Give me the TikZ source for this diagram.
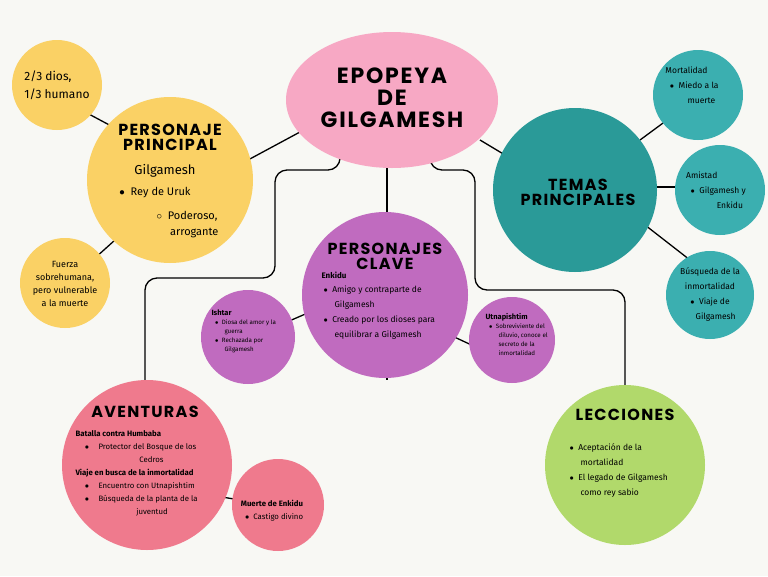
\documentclass[tikz,border=0pt]{standalone}
\usepackage{fontspec}
\setmainfont{Fira Sans}
\newfontfamily\titlefont[LetterSpace=8]{Poppins Bold}
\usetikzlibrary{calc}
\definecolor{bg}{HTML}{F8F8F4}
\definecolor{cyel}{HTML}{FAD165}
\definecolor{cpink}{HTML}{F7A8C4}
\definecolor{cteal}{HTML}{2A9A98}
\definecolor{cteal2}{HTML}{3BAFB0}
\definecolor{cpur}{HTML}{C06BBF}
\definecolor{cros}{HTML}{EF7A8D}
\definecolor{cgrn}{HTML}{B1D96B}
\tikzset{
  bub/.style={circle,draw=none,inner sep=0pt},
  ttl/.style={font=\titlefont\fontsize{16}{15}\selectfont,align=center},
  txt/.style={font=\fontsize{10}{13}\selectfont,align=left},
  sm/.style={font=\fontsize{8}{11}\selectfont,align=left},
  tiny/.style={font=\fontsize{6.2}{9}\selectfont,align=left},
  ln/.style={line width=1.3pt,black,rounded corners=12pt}
}
\begin{document}
\begin{tikzpicture}[x=1pt,y=-1pt]
\fill[bg] (0,0) rectangle (768,576);
\useasboundingbox (0,0) rectangle (768,576);
% connectors first
\coordinate (t1) at (340,160);
\coordinate (t2) at (387,160);
\coordinate (t3) at (430,160);
\draw[ln] (t1) -- (340,170) -- (275,170) -- (275,278) -- (145,278) -- (145,385);
\draw[ln] (t2) -- (387,215);
\draw[ln] (387,370) -- (387,380);
\draw[ln] (t3) -- (430,170) -- (475,170) -- (475,290) -- (625,290) -- (625,390);
\draw[ln] (248,160) -- (300,132);
\draw[ln] (85,112) -- (115,128);
\draw[ln] (95,258) -- (115,240);
\draw[ln] (480,140) -- (510,158);
\draw[ln] (640,140) -- (678,112);
\draw[ln] (650,187) -- (680,187);
\draw[ln] (645,225) -- (690,260);
\draw[ln] (280,325) -- (310,312);
\draw[ln] (450,335) -- (478,348);
\draw[ln] (222,497) -- (240,500);
% bubbles
\fill[cpink] (392,100) ellipse [x radius=106, y radius=68];
\node[ttl,font=\titlefont\fontsize{22}{22}\selectfont] (title) at (392,98) {EPOPEYA\\DE\\GILGAMESH};
\node[bub,fill=cyel,minimum size=90] (d) at (57,85) {};
\node[txt,font=\fontsize{12}{18}\selectfont] at (57,85) {2/3 dios,\\1/3 humano};
\node[bub,fill=cyel,minimum size=90] (f) at (65,283) {};
\node[sm,align=center,font=\fontsize{9}{13}\selectfont] at (65,284) {Fuerza\\sobrehumana,\\pero vulnerable\\a la muerte};
\node[bub,fill=cyel,minimum size=166] (pp) at (170,180) {};
\node[ttl] at (170,137) {PERSONAJE\\PRINCIPAL};
\node[font=\fontsize{13}{15}\selectfont] at (165,171) {Gilgamesh};
\node[txt,font=\fontsize{11}{16}\selectfont] at (155,193) {$\bullet$\ \ Rey de Uruk};
\node[txt,font=\fontsize{11}{16}\selectfont,align=center] at (187,225) {$\circ$\ \ Poderoso,\\\ \ \ \ \ arrogante};
\node[bub,fill=cteal,minimum size=164] (tp) at (575,190) {};
\node[ttl] at (578,192) {TEMAS\\PRINCIPALES};
\node[bub,fill=cteal2,minimum size=90] (m) at (698,95) {};
\node[sm,font=\fontsize{8.5}{15}\selectfont] at (692,85) {Mortalidad\\\ \ $\bullet$\ \ Miedo a la\\\hspace{2.6em}muerte};
\node[bub,fill=cteal2,minimum size=90] (a) at (720,190) {};
\node[sm,font=\fontsize{8.5}{15}\selectfont] at (716,190) {Amistad\\\ \ $\bullet$\ \ Gilgamesh y\\\hspace{3.6em}Enkidu};
\node[bub,fill=cteal2,minimum size=88] (b) at (710,295) {};
\node[sm,font=\fontsize{8.5}{15}\selectfont,align=center] at (710,294) {Búsqueda de la\\inmortalidad\\$\bullet$\ \ Viaje de\\\ \ \ \ \ Gilgamesh};
\node[bub,fill=cpur,minimum size=166] (pc) at (385,295) {};
\node[ttl] at (385,256) {PERSONAJES\\CLAVE};
\node[sm,font=\bfseries\fontsize{8}{10}\selectfont] at (334,275) {Enkidu};
\node[sm,font=\fontsize{8.5}{15}\selectfont,anchor=north west] at (320,282) {$\bullet$\ \ Amigo y contraparte de\\\hspace{1.3em}Gilgamesh\\$\bullet$\ \ Creado por los dioses para\\\hspace{1.3em}equilibrar a Gilgamesh};
\node[bub,fill=cpur,minimum size=94] (ish) at (248,337) {};
\node[tiny,anchor=north west] at (208,306) {\textbf{\fontsize{7.5}{9}\selectfont Ishtar}\\\ \ $\bullet$\ \ Diosa del amor y la\\\hspace{2.1em}guerra\\\ \ $\bullet$\ \ Rechazada por\\\hspace{2.1em}Gilgamesh};
\node[bub,fill=cpur,minimum size=86] (ut) at (512,340) {};
\node[tiny,anchor=north west] at (482,310) {\textbf{\fontsize{7.5}{9}\selectfont Utnapishtim}\\\ \ $\bullet$\ \ Sobreviviente del\\\hspace{2.1em}diluvio, conoce el\\\hspace{2.1em}secreto de la\\\hspace{2.1em}inmortalidad};
\node[bub,fill=cros,minimum size=170] (av) at (147,465) {};
\node[ttl] at (145,412) {AVENTURAS};
\node[sm,font=\fontsize{7.8}{13}\selectfont,align=left,anchor=north west] at (72,427) {\textbf{Batalla contra Humbaba}\\\hspace{1.2em}$\bullet$\hspace{1.2em}Protector del Bosque de los\\\hspace{8.2em}Cedros\\\textbf{Viaje en busca de la inmortalidad}\\\hspace{1.2em}$\bullet$\hspace{1.2em}Encuentro con Utnapishtim\\\hspace{1.2em}$\bullet$\hspace{1.2em}Búsqueda de la planta de la\\\hspace{7.8em}juventud};
\node[bub,fill=cros,minimum size=92] (me) at (278,505) {};
\node[sm,font=\fontsize{7.8}{13}\selectfont] at (272,511) {\textbf{Muerte de Enkidu}\\\ \ $\bullet$\ \ Castigo divino};
\node[bub,fill=cgrn,minimum size=160] (le) at (625,465) {};
\node[ttl] at (625,415) {LECCIONES};
\node[sm,font=\fontsize{8.5}{15}\selectfont,anchor=north west] at (566,440) {$\bullet$\ \ Aceptación de la\\\hspace{1.3em}mortalidad\\$\bullet$\ \ El legado de Gilgamesh\\\hspace{1.3em}como rey sabio};
\end{tikzpicture}
\end{document}
